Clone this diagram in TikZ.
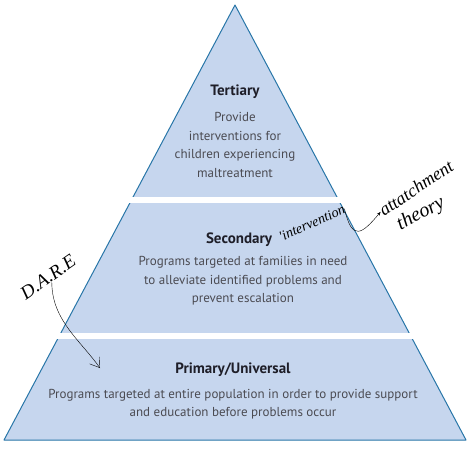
\documentclass[tikz,border=0pt]{standalone}
\usepackage{fontspec}
\setmainfont{PT Sans}
\newfontfamily\handfont{Liberation Serif}
\usetikzlibrary{arrows.meta}
\definecolor{bandblue}{RGB}{198,214,238}
\definecolor{edgeblue}{RGB}{40,118,168}
\definecolor{titlegray}{RGB}{30,30,40}
\definecolor{bodygray}{RGB}{75,75,82}
\tikzstyle{gap} = [fill=white]
\tikzstyle{title} = [font=\bfseries\fontsize{15}{18}\selectfont, text=titlegray]
\tikzstyle{body} = [align=center, font=\fontsize{13}{18.6}\selectfont, text=bodygray]
\tikzstyle{hand} = [text=black, inner sep=0pt]
\tikzstyle{arrow} = [thin, -{Straight Barb[length=9pt,width=12pt]}]
\tikzstyle{hook} = [thin, -{Stealth[length=4pt,width=3pt]}]

\begin{document}
\begin{tikzpicture}[x=1pt,y=-1pt]
            \useasboundingbox (0,0) rectangle (474,448);
            % pyramid with two white cuts
            \fill [bandblue] (235,5) -- (466,440) -- (4,440) -- cycle;
            \draw [edgeblue, line width=1pt, line join=round] (235,5) -- (466,440) -- (4,440) -- cycle;
            \fill [gap] (120,197) rectangle (350,203);
            \fill [gap] (45,333) rectangle (425,339);
            % tertiary
            \node [title] at (235,92) (tertiary) {Tertiary};
            \node [body] at (235,145) (tertiarytext) {Provide\\interventions for\\children experiencing\\maltreatment};
            % secondary
            \node [title] at (239,240) (secondary) {Secondary};
            \node [body] at (243,281) (secondarytext) {Programs targeted at families in need\\to alleviate identified problems and\\prevent escalation};
            % primary
            \node [title] at (233,370) (primary) {Primary/Universal};
            \node [body] at (233,404) (primarytext) {Programs targeted at entire population in order to provide support\\and education before problems occur};
            % handwritten notes
            \node [hand, rotate=35, font=\handfont\itshape\fontsize{19}{19}\selectfont] at (48,277) (dare) {D.A.R.E};
            \node [hand, rotate=24, font=\handfont\itshape\fontsize{14}{14}\selectfont] at (312,223) (interv) {'intervention};
            \node [hand, rotate=34, font=\handfont\itshape\fontsize{18}{18}\selectfont] at (416,188) (attach) {attatchment};
            \node [hand, rotate=28, font=\handfont\itshape\fontsize{20}{20}\selectfont] at (421,214) (theory) {theory};
            \coordinate (darehead) at (100,368);
            \draw [arrow] (dare.south) .. controls (52,320) and (80,340) .. (darehead);
            \draw [hook] (interv.east) .. controls (352,242) and (362,234) .. (attach.west);
\end{tikzpicture}
\end{document}
